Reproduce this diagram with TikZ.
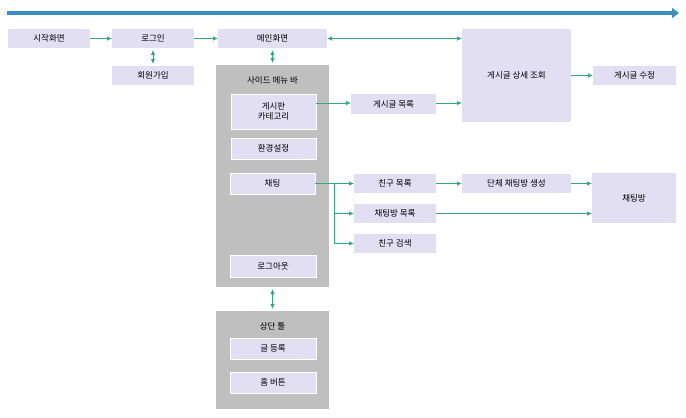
\documentclass[tikz,border=0pt]{standalone}
\usepackage{fontspec}
\setmainfont{Noto Sans CJK KR}
\usetikzlibrary{arrows.meta}
\definecolor{boxc}{HTML}{E3DFF2}
\definecolor{grayc}{HTML}{BFBFBF}
\definecolor{grn}{HTML}{2EAA80}
\definecolor{blu}{HTML}{3B8EC0}
\begin{document}
\begin{tikzpicture}[x=1pt,y=-1pt,
  bx/.style={fill=boxc,font=\fontsize{8.5}{10}\selectfont,align=center},
  wb/.style={fill=boxc,draw=white,line width=1pt,font=\fontsize{8.5}{10}\selectfont,align=center},
  gp/.style={fill=grayc},
  ar/.style={draw=grn,line width=0.8pt,-{Latex[length=5pt,width=4.5pt]}},
  dar/.style={draw=grn,line width=0.8pt,{Latex[length=5pt,width=4.5pt]}-{Latex[length=5pt,width=4.5pt]}}]
\useasboundingbox (0,0) rectangle (686,418);
\coordinate (ts) at (7,13); \coordinate (te) at (679,13);
\draw[blu,line width=4pt,-{Triangle[length=7pt,width=10pt]}] (ts) -- (te);
\def\B#1#2#3#4#5#6#7{\path[#2] (#3,#4) rectangle (#5,#6); \node[font=\fontsize{8.5}{10}\selectfont,align=center,inner sep=0] (#1) at ({(#3+#5)/2},{(#4+#6)/2}) {#7};
 \coordinate (#1w) at (#3,{(#4+#6)/2}); \coordinate (#1e) at (#5,{(#4+#6)/2}); \coordinate (#1n) at ({(#3+#5)/2},#4); \coordinate (#1s) at ({(#3+#5)/2},#6);}
\B{start}{fill=boxc}{8}{29}{90}{48}{시작화면}
\B{login}{fill=boxc}{112}{29}{194}{48}{로그인}
\B{join}{fill=boxc}{112}{66}{194}{85}{회원가입}
\B{main}{fill=boxc}{218}{29}{327}{48}{메인화면}
\path[gp] (216,65) rectangle (329,287);
\node[font=\fontsize{8.5}{10}\selectfont] (side) at (272.5,80) {사이드 메뉴 바};
\coordinate (siden) at (272.5,65); \coordinate (sides) at (272.5,287);
\B{cat}{fill=boxc,draw=white,line width=1pt}{231}{94}{316}{129}{게시판\\카테고리}
\B{env}{fill=boxc,draw=white,line width=1pt}{231}{138}{316}{159}{환경설정}
\B{chat}{fill=boxc,draw=white,line width=1pt}{230}{173}{315}{194}{채팅}
\B{logout}{fill=boxc,draw=white,line width=1pt}{230}{255}{316}{277}{로그아웃}
\path[gp] (216,311) rectangle (329,409);
\node[font=\fontsize{8.5}{10}\selectfont] (top) at (272.5,326) {상단 툴};
\coordinate (topn) at (272.5,311);
\B{write}{fill=boxc,draw=white,line width=1pt}{230}{338}{316}{359}{글 등록}
\B{home}{fill=boxc,draw=white,line width=1pt}{230}{372}{316}{393}{홈 버튼}
\B{plist}{fill=boxc}{351}{94}{436}{114}{게시글 목록}
\B{detail}{fill=boxc}{462}{29}{571}{122}{게시글 상세 조회}
\B{edit}{fill=boxc}{593}{66}{676}{85}{게시글 수정}
\B{flist}{fill=boxc}{354}{174}{436}{193}{친구 목록}
\B{clist}{fill=boxc}{354}{204}{436}{223}{채팅방 목록}
\B{fsearch}{fill=boxc}{354}{234}{436}{253}{친구 검색}
\B{group}{fill=boxc}{462}{174}{571}{193}{단체 채팅방 생성}
\B{room}{fill=boxc}{592}{173}{676}{223}{채팅방}
\draw[ar] (startw -| 90,38.5) -- (112,38.5);
\draw[ar] (194,38.5) -- (218,38.5);
\draw[dar] (loginn |- 0,50) -- (loginn |- 0,64);
\draw[dar] (main.south |- 0,50) -- (272.5,63);
\draw[dar] (327,38.5) -- (462,38.5);
\draw[dar] (272.5,289) -- (272.5,309);
\draw[ar] (316,103) -- (351,103);
\draw[ar] (436,103) -- (462,103);
\draw[ar] (571,75.5) -- (593,75.5);
\draw[ar] (315,183.5) -- (354,183.5);
\draw[grn,line width=0.8pt] (334,183.5) -- (334,243.5);
\draw[ar] (334,213.5) -- (354,213.5);
\draw[ar] (334,243.5) -- (354,243.5);
\draw[ar] (436,183.5) -- (462,183.5);
\draw[ar] (571,183.5) -- (592,183.5);
\draw[ar] (436,213.5) -- (592,213.5);
\end{tikzpicture}
\end{document}
